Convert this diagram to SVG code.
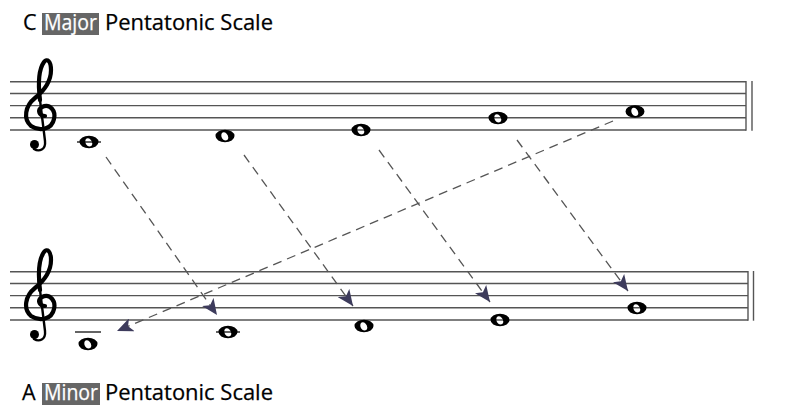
<svg xmlns="http://www.w3.org/2000/svg" width="800" height="415" viewBox="0 0 800 415">
<style>
.t{font-family:"Open Sans","Liberation Sans",sans-serif;font-size:21.5px;fill:#000;stroke:#000;stroke-width:0.25}
.hl{fill:#fff;stroke:#fff}
.staff{stroke:#555;stroke-width:1.4;fill:none}
.bar{stroke:#555;stroke-width:1.4}
.ledger{stroke:#222;stroke-width:1.4}
.conn{stroke:#555;stroke-width:1.3;stroke-dasharray:9 6;fill:none;marker-end:url(#ah)}
</style>
<defs>
<marker id="ah" markerUnits="userSpaceOnUse" markerWidth="18" markerHeight="14" refX="16" refY="7" orient="auto">
<path d="M16,7 L0,0 L4,7 L0,14 Z" fill="#3d3b5c"/>
</marker>
<path id="note" fill="#000" fill-rule="evenodd" d="M-9.5,0 A9.5,6.2 0 1 0 9.5,0 A9.5,6.2 0 1 0 -9.5,0 Z M-3.2,-2.8 C-1.4,-5 2.9,-2.8 3.3,1.4 C3.5,4.3 0.5,5.2 -1.6,3.8 C-3.8,2.1 -4.2,-1.3 -3.2,-2.8 Z"/>
<g id="clef" fill="none" stroke="#000" stroke-linecap="round">
<path stroke-width="4.2" d="M45,116 C39,116 37,110 42,107 C50,103 56,111 54,119 C52,129 40,132 31,126 C23,119 25,106 35,98 C45,90 51,81 51,70 C51,61 47,58 44,62 C39,69 38,84 40,100"/>
<path stroke-width="2.4" d="M40,100 L45,141 C46,150 39,152 34,149"/>
<circle cx="34.5" cy="144.5" r="4.5" fill="#000" stroke="none"/>
</g>
</defs>

<g id="title-major">
<text class="t" x="23" y="29.5">C</text>
<rect x="42" y="13" width="57" height="22" fill="#666"/>
<text class="t hl" x="44" y="29.5" textLength="53" lengthAdjust="spacingAndGlyphs">Major</text>
<text class="t" x="105" y="29.5" textLength="168" lengthAdjust="spacingAndGlyphs">Pentatonic Scale</text>
</g>

<g id="staff-major">
<path class="staff" d="M10,81.7 H746 M10,93.5 H746 M10,105.6 H746 M10,117.8 H746 M10,130 H746"/>
<line class="bar" x1="746" y1="81" x2="746" y2="130.7"/>
<line class="bar" x1="752" y1="81" x2="752" y2="130.7"/>
<use href="#clef"/>
</g>

<g id="major-notes">
<g id="note-C4-top"><line class="ledger" x1="77" y1="142" x2="101" y2="142"/><use href="#note" x="89" y="142"/></g>
<g id="note-D4-top"><use href="#note" x="225" y="136"/></g>
<g id="note-E4-top"><use href="#note" x="361" y="130"/></g>
<g id="note-G4-top"><use href="#note" x="498" y="118"/></g>
<g id="note-A4-top"><use href="#note" x="635" y="111.5"/></g>
</g>

<g id="staff-minor">
<path class="staff" d="M10,271.7 H748 M10,283.5 H748 M10,295.6 H748 M10,307.8 H748 M10,320 H748"/>
<line class="bar" x1="748" y1="271" x2="748" y2="320.7"/>
<line class="bar" x1="753.5" y1="271" x2="753.5" y2="320.7"/>
<use href="#clef" y="190"/>
</g>

<g id="minor-notes">
<g id="note-A3-bottom"><line class="ledger" x1="75" y1="332" x2="101" y2="332"/><use href="#note" x="88" y="344"/></g>
<g id="note-C4-bottom"><line class="ledger" x1="216" y1="332" x2="240" y2="332"/><use href="#note" x="228" y="332"/></g>
<g id="note-D4-bottom"><use href="#note" x="364" y="326"/></g>
<g id="note-E4-bottom"><use href="#note" x="500" y="320"/></g>
<g id="note-G4-bottom"><use href="#note" x="637" y="308"/></g>
</g>

<g id="connectors">
<line class="conn" x1="106" y1="157" x2="217" y2="315"/>
<line class="conn" x1="244" y1="155" x2="353" y2="306"/>
<line class="conn" x1="379" y1="150" x2="490" y2="302"/>
<line class="conn" x1="517" y1="140" x2="628" y2="291"/>
<line class="conn" x1="613" y1="121" x2="117" y2="331"/>
</g>

<g id="title-minor">
<text class="t" x="22" y="399.5">A</text>
<rect x="42" y="383" width="58" height="22" fill="#666"/>
<text class="t hl" x="44" y="399.5" textLength="54" lengthAdjust="spacingAndGlyphs">Minor</text>
<text class="t" x="105" y="399.5" textLength="168" lengthAdjust="spacingAndGlyphs">Pentatonic Scale</text>
</g>
</svg>
